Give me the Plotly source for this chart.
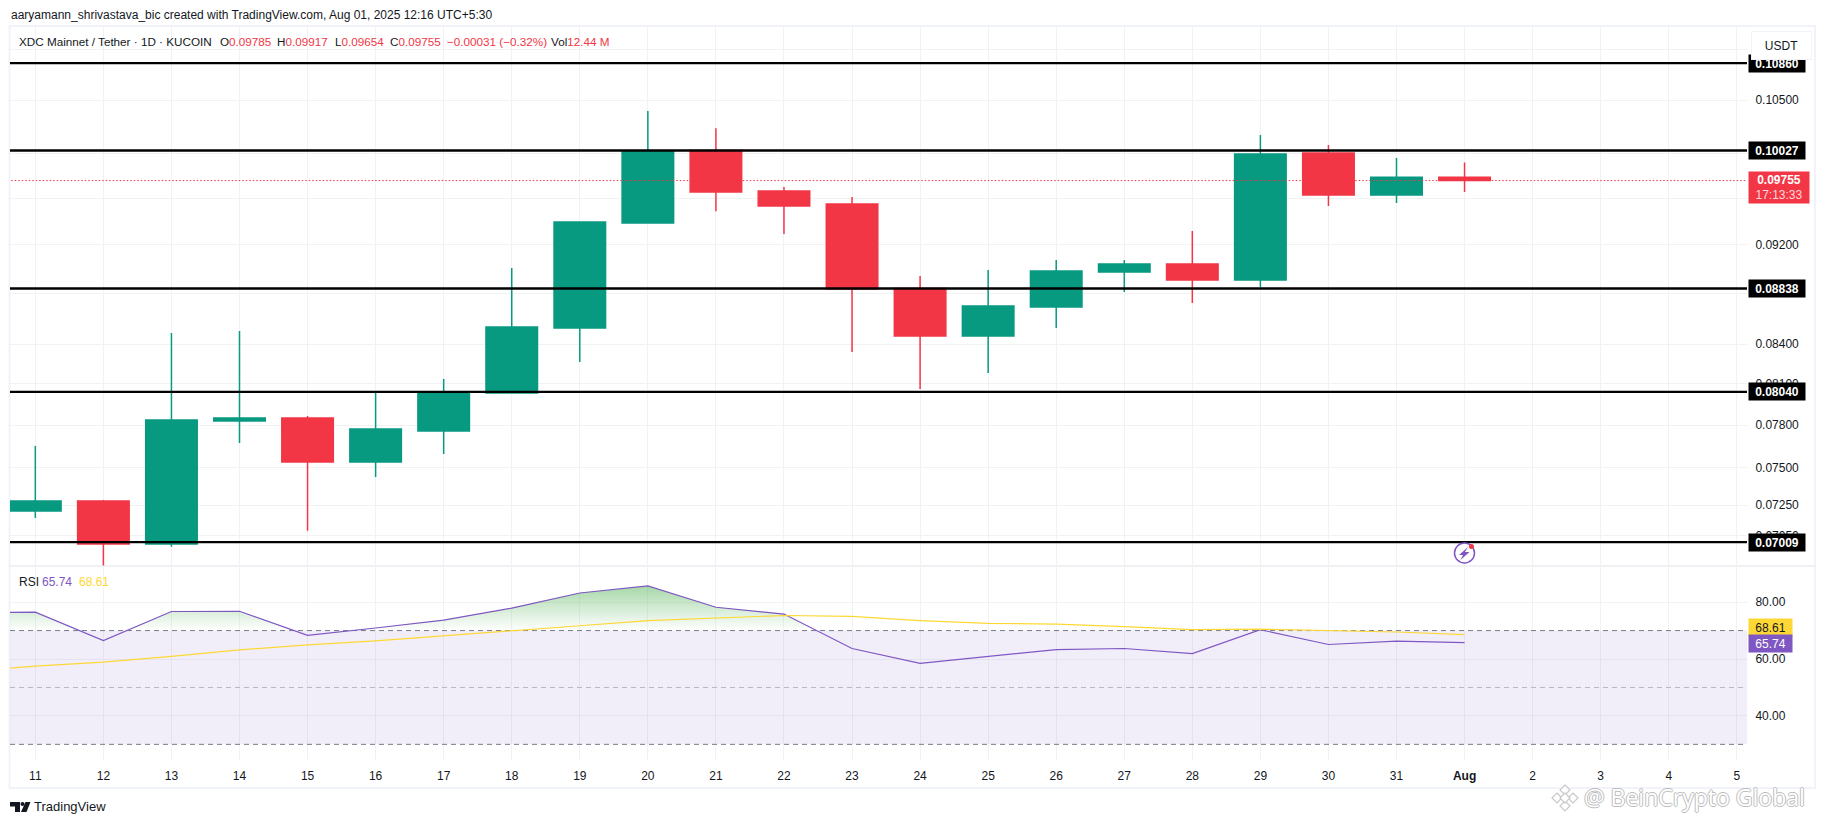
import numpy as np
import plotly.graph_objects as go

W, H = 1825, 824
def px(x): return x / W
def py(y): return 1 - y / H

dates = ["2025-07-11","2025-07-12","2025-07-13","2025-07-14","2025-07-15","2025-07-16","2025-07-17","2025-07-18",
         "2025-07-19","2025-07-20","2025-07-21","2025-07-22","2025-07-23","2025-07-24","2025-07-25","2025-07-26",
         "2025-07-27","2025-07-28","2025-07-29","2025-07-30","2025-07-31","2025-08-01"]
opens = [.07210,.07277,.06996,.07829,.07851,.07541,.07758,.08032,.08524,.09383,.10027,.09662,.09547,.08838,.08462,.08689,.08972,.09038,.08906,.10003,.09626,.09785]
highs = [.07652,.07283,.08485,.08501,.07865,.08040,.08136,.09005,.09392,.10395,.10234,.09697,.09609,.08939,.08988,.09071,.09071,.09315,.10169,.10077,.09958,.09917]
lows  = [.07165,.06860,.06979,.07673,.07082,.07438,.07596,.08032,.08263,.09383,.09486,.09289,.08339,.08062,.08180,.08524,.08809,.08721,.08850,.09530,.09556,.09654]
closes= [.07277,.06996,.07836,.07851,.07541,.07772,.08040,.08532,.09392,.10022,.09653,.09530,.08833,.08462,.08697,.08980,.09038,.08906,.09994,.09626,.09785,.09755]

rsi_dates = ["2025-07-10"] + dates
rsi_values = [76.3,76.5,66.5,76.7,76.8,68.3,70.9,73.7,77.9,83.2,85.7,78.2,75.8,63.7,58.5,60.9,63.3,63.7,61.9,70.3,65.1,66.3,65.74]
rsi_ma     = [55.6,57.5,58.9,60.9,63.2,65.0,66.4,68.1,69.9,71.7,73.5,74.4,75.3,75.0,73.5,72.5,72.3,71.4,70.3,70.5,70.0,69.5,68.61]

levels = [0.10860,0.10027,0.08838,0.08040,0.07009]
last_price = 0.09755
price_ticks = [0.11,0.105,0.1,0.096,0.092,0.088,0.084,0.081,0.078,0.075,0.0725,0.0705]
rsi_ticks = [80,60,40]
rsi_bands = [70,50,30]
x_ticks = ["2025-07-%02d" % d for d in range(11,32)] + ["2025-08-%02d" % d for d in range(1,6)]
x_labels = [str(d) for d in range(11,32)] + ["<b>Aug</b>","2","3","4","5"]

GREEN, RED, PURPLE, YELLOW, INK = "#089981", "#F23645", "#7E57C2", "#FDD835", "#131722"
GRID = "#F1F2F4"
FONT = "Liberation Sans"
XR = ["2025-07-10 15:04","2025-08-05 03:36"]
XE = ["2025-07-09","2025-08-07"]

fig = go.Figure()
for lv in levels:
    fig.add_trace(go.Scatter(x=XE, y=[lv,lv], mode="lines", line=dict(color="#000000", width=2.3), hoverinfo="skip", xaxis="x", yaxis="y"))
fig.add_trace(go.Candlestick(x=dates, open=opens, high=highs, low=lows, close=closes,
    increasing=dict(line=dict(color=GREEN, width=1.5), fillcolor=GREEN),
    decreasing=dict(line=dict(color=RED, width=1.5), fillcolor=RED),
    whiskerwidth=0, xaxis="x", yaxis="y"))
fig.add_trace(go.Scatter(x=XE, y=[last_price,last_price], mode="lines", line=dict(color=RED, width=1, dash="1.5px,2px"), hoverinfo="skip", xaxis="x", yaxis="y"))

fig.add_trace(go.Scatter(x=rsi_dates, y=rsi_values, mode="lines", line=dict(color=PURPLE, width=1.2),
    fill="tozeroy",
    fillgradient=dict(type="vertical", start=70, stop=86,
        colorscale=[[0,"rgba(76,175,80,0)"],[1,"rgba(76,175,80,0.5)"]]),
    hoverinfo="skip", xaxis="x2", yaxis="y2"))
fig.add_trace(go.Scatter(x=rsi_dates, y=rsi_ma, mode="lines", line=dict(color=YELLOW, width=1.2), hoverinfo="skip", xaxis="x2", yaxis="y2"))

shapes = []
# RSI band and levels
shapes.append(dict(type="rect", xref="x2", yref="y2", x0=XR[0], x1=XR[1], y0=rsi_bands[2], y1=rsi_bands[0],
    fillcolor="rgba(126,87,194,0.1)", line=dict(width=0), layer="between"))
for b, c in zip(rsi_bands, ["#787B86","#B5B7BE","#787B86"]):
    shapes.append(dict(type="line", xref="x2", yref="y2", x0=XR[0], x1=XR[1], y0=b, y1=b, line=dict(color=c, width=1, dash="5px,4px"), layer="between"))
# frames
F = "#F0F3FA"
shapes.append(dict(type="rect", xref="paper", yref="paper", x0=px(9.5), x1=px(1815), y0=py(788), y1=py(26), line=dict(color=F, width=2), layer="below"))
shapes.append(dict(type="line", xref="paper", yref="paper", x0=px(9.5), x1=px(1815), y0=py(566), y1=py(566), line=dict(color="#E0E3EB", width=1), layer="below"))
# logo
def P(pts):
    return " ".join(("%s%.5f,%.5f" % (c, px(x), py(y))) for c, x, y in pts) + " Z"
shapes.append(dict(type="path", xref="paper", yref="paper", line=dict(width=0), fillcolor=INK,
    path=P([("M",10,802),("L",20,802),("L",20,812),("L",15,812),("L",15,806.5),("L",10,806.5)])))
shapes.append(dict(type="path", xref="paper", yref="paper", line=dict(width=0), fillcolor=INK,
    path=P([("M",25.5,802),("L",30.5,802),("L",26.5,812),("L",21,812)])))
shapes.append(dict(type="circle", xref="paper", yref="paper", line=dict(width=0), fillcolor=INK,
    x0=px(20.5), x1=px(24.5), y0=py(806), y1=py(802)))
# lightning icon
shapes.append(dict(type="circle", xref="paper", yref="paper", line=dict(color=PURPLE, width=1.5), fillcolor="#FFFFFF",
    x0=px(1454.5), x1=px(1474.5), y0=py(563), y1=py(543)))
shapes.append(dict(type="path", xref="paper", yref="paper", line=dict(width=0), fillcolor=PURPLE,
    path=P([("M",1468,547),("L",1459,555),("L",1463,555),("L",1460.5,560),("L",1469.5,552),("L",1465,552)])))
shapes.append(dict(type="circle", xref="paper", yref="paper", line=dict(width=0), fillcolor=RED,
    x0=px(1469), x1=px(1474), y0=py(549), y1=py(544)))
# watermark diamond
WM = "#C8C8C8"
for cx, cy, r in [(1565,790,5),(1565,806,5),(1557,798,5),(1573,798,5),(1565,798,5)]:
    shapes.append(dict(type="path", xref="paper", yref="paper", line=dict(color=WM, width=1.2), fillcolor="#FFFFFF",
        path=P([("M",cx,cy-r),("L",cx+r,cy),("L",cx,cy+r),("L",cx-r,cy)])))

ann = []
def T(x, y, text, color=INK, size=12, anchor="left", **kw):
    font = dict(family=kw.pop("family", FONT), size=size, color=color)
    if "shadow" in kw:
        font["shadow"] = kw.pop("shadow")
    ann.append(dict(xref="paper", yref="paper", x=px(x), y=py(y), text=text, showarrow=False, xanchor=anchor, yanchor="middle", font=font, borderpad=0, **kw))

T(10, 15, "aaryamann_shrivastava_bic created with TradingView.com, Aug 01, 2025 12:16 UTC+5:30")
T(17.5, 42, "XDC Mainnet / Tether · 1D · KUCOIN", size=11.7)
for x, lab, val in [(219,"O","0.09785"),(276,"H","0.09917"),(333.5,"L","0.09654"),(389,"C","0.09755")]:
    T(x, 42, lab + '<span style="color:%s">%s</span>' % (RED, val), size=11.7)
T(445.5, 42, "−0.00031 (−0.32%)", RED, size=11.7)
T(550, 42, 'Vol<span style="color:%s">12.44 M</span>' % RED, size=11.7)
T(18.4, 581.7, "RSI")
T(41.3, 581.7, "65.74", PURPLE)
T(78, 581.7, "68.61", YELLOW)
T(33, 806.5, "TradingView", size=13)
T(1583, 797, "@ BeinCrypto Global", "#FFFFFF", size=23, family="Open Sans",
  shadow="1px 0 #BDBDBD, -1px 0 #BDBDBD, 0 1px #BDBDBD, 0 -1px #BDBDBD")

for lv in levels:
    ann.append(dict(xref="paper", yref="y", x=px(1748), y=float(np.log10(lv)), text="<b>%.5f</b>" % lv, showarrow=False,
        xanchor="left", yanchor="middle", bgcolor="#000000", width=56, height=17, borderpad=0, align="center",
        font=dict(family=FONT, size=12, color="#FFFFFF")))
ann.append(dict(xref="paper", yref="y", x=px(1748), y=float(np.log10(last_price)), yshift=-7,
    text='<b>%.5f</b><br><span style="color:#FFD9DC">17:13:33</span>' % last_price, showarrow=False,
    xanchor="left", yanchor="middle", bgcolor=RED, width=60, height=31, borderpad=0, align="center",
    font=dict(family=FONT, size=12, color="#FFFFFF")))
ann.append(dict(xref="paper", yref="y2", x=px(1748), y=rsi_ma[-1], yshift=7.5, text="%.2f" % rsi_ma[-1], showarrow=False,
    xanchor="left", yanchor="middle", bgcolor=YELLOW, width=43, height=17, borderpad=0, align="center",
    font=dict(family=FONT, size=12, color=INK)))
ann.append(dict(xref="paper", yref="y2", x=px(1748), y=rsi_values[-1], yshift=-1, text="%.2f" % rsi_values[-1], showarrow=False,
    xanchor="left", yanchor="middle", bgcolor=PURPLE, width=43, height=17, borderpad=0, align="center",
    font=dict(family=FONT, size=12, color="#FFFFFF")))
ann.append(dict(xref="paper", yref="paper", x=px(1751), y=py(45), text="USDT", showarrow=False, xanchor="left", yanchor="middle",
    bgcolor="#FFFFFF", bordercolor=F, borderwidth=1, width=59, height=27, borderpad=0, align="center",
    font=dict(family=FONT, size=12, color=INK)))

fig.update_layout(
    width=W, height=H, margin=dict(l=0,r=0,t=0,b=0), autosize=False, paper_bgcolor="#FFFFFF", plot_bgcolor="#FFFFFF",
    showlegend=False, boxgap=0.243, boxgroupgap=0, hovermode=False, shapes=shapes, annotations=ann,
    font=dict(family=FONT, size=12, color=INK),
    xaxis=dict(domain=[px(10),px(1747)], anchor="y", type="date", range=XR, rangeslider=dict(visible=False),
        tickmode="array", tickvals=x_ticks, showticklabels=False, gridcolor=GRID, gridwidth=1, showline=False, zeroline=False, ticks=""),
    yaxis=dict(domain=[py(566),py(26)], anchor="x", side="right", type="log",
        range=[float(np.log10(0.06857)), float(np.log10(0.11236))],
        tickmode="array", tickvals=price_ticks, ticktext=["%.5f" % v for v in price_ticks],
        gridcolor=GRID, gridwidth=1, showline=False, zeroline=False, ticks="outside", ticklen=5, tickcolor="rgba(0,0,0,0)"),
    xaxis2=dict(domain=[px(10),px(1747)], anchor="y2", type="date", range=XR,
        tickmode="array", tickvals=x_ticks, ticktext=x_labels, tickangle=0, gridcolor=GRID, gridwidth=1, showline=False, zeroline=False,
        ticks="outside", ticklen=5, tickcolor="rgba(0,0,0,0)"),
    yaxis2=dict(domain=[py(760),py(566)], anchor="x2", side="right", range=[24.5,92.7],
        tickmode="array", tickvals=rsi_ticks, ticktext=["%.2f" % v for v in rsi_ticks],
        gridcolor=GRID, gridwidth=1, showline=False, zeroline=False, ticks="outside", ticklen=5, tickcolor="rgba(0,0,0,0)"),
)
fig.write_html("out.html", config=dict(displayModeBar=False),
    post_script="document.body.style.margin='0';document.body.style.overflow='hidden';")
